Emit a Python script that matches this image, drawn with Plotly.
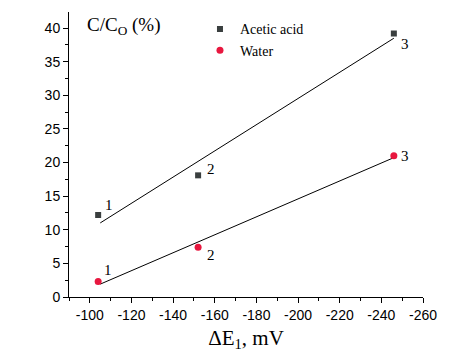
import numpy as np
import plotly.graph_objects as go

# Data
dE = [-104, -152, -246]
acetic = [12.2, 18.1, 39.2]
water = [2.3, 7.4, 21.0]
point_labels = ["1", "2", "3"]
x_ticks = [-100, -120, -140, -160, -180, -200, -220, -240, -260]
y_ticks = [0, 5, 10, 15, 20, 25, 30, 35, 40]

serif = "Liberation Serif, Times New Roman, serif"
sans = "Liberation Sans, Arial, sans-serif"

fig = go.Figure()

# Fit lines (linear regression through data)
xfit = np.array([-105, -246])
for ys in (acetic, water):
    k, b = np.polyfit(dE, ys, 1)
    fig.add_trace(go.Scatter(x=xfit, y=k * xfit + b, mode="lines",
                             line=dict(color="black", width=1), showlegend=False,
                             hoverinfo="skip"))

fig.add_trace(go.Scatter(x=dE, y=acetic, mode="markers", name="Acetic acid",
                         marker=dict(symbol="square", size=6, color="#3a3f3f")))
fig.add_trace(go.Scatter(x=dE, y=water, mode="markers", name="Water",
                         marker=dict(symbol="circle", size=7, color="#e8173f")))

# Point labels
acetic_shift = [(11, 10), (13, 6), (11, -10)]
water_shift = [(10, 12), (13, -8), (11, 0)]
for i, lab in enumerate(point_labels):
    fig.add_annotation(x=dE[i], y=acetic[i], text=lab, showarrow=False,
                       xshift=acetic_shift[i][0], yshift=acetic_shift[i][1],
                       font=dict(family=serif, size=15, color="black"))
    fig.add_annotation(x=dE[i], y=water[i], text=lab, showarrow=False,
                       xshift=water_shift[i][0], yshift=water_shift[i][1],
                       font=dict(family=serif, size=15, color="black"))

# Y-axis title inside the plot
fig.add_annotation(xref="paper", yref="paper", x=0.045, y=1.0, xanchor="left", yanchor="top",
                   text="C/C<sub>O</sub> (%)", showarrow=False,
                   font=dict(family=serif, size=19, color="black"))

fig.update_layout(
    width=474, height=362,
    margin=dict(l=61, r=59, t=4, b=73),
    plot_bgcolor="white", paper_bgcolor="white",
    legend=dict(x=0.37, y=0.995, xanchor="left", yanchor="top",
                font=dict(family=serif, size=14, color="black"),
                bgcolor="rgba(0,0,0,0)", itemwidth=30, tracegroupgap=0),
)
fig.update_xaxes(range=[-90, -260], tickvals=x_ticks, ticktext=[str(v) for v in x_ticks],
                 showgrid=False, zeroline=False, showline=True, linecolor="black", linewidth=1,
                 ticks="outside", ticklen=5, tickcolor="black",
                 minor=dict(ticks="outside", ticklen=3, dtick=10, tickcolor="black", showgrid=False),
                 tickfont=dict(family=sans, size=14, color="black"),
                 title=dict(text="ΔE<sub>1</sub>, mV", font=dict(family=serif, size=21, color="black"),
                            standoff=8))
fig.update_yaxes(range=[0, 42.4], tickvals=y_ticks, ticktext=[str(v) for v in y_ticks],
                 showgrid=False, zeroline=False, showline=True, linecolor="black", linewidth=1,
                 ticks="outside", ticklen=5, tickcolor="black",
                 minor=dict(ticks="outside", ticklen=3, dtick=2.5, tickcolor="black", showgrid=False),
                 tickfont=dict(family=sans, size=14, color="black"))

fig.write_html("out.html")
